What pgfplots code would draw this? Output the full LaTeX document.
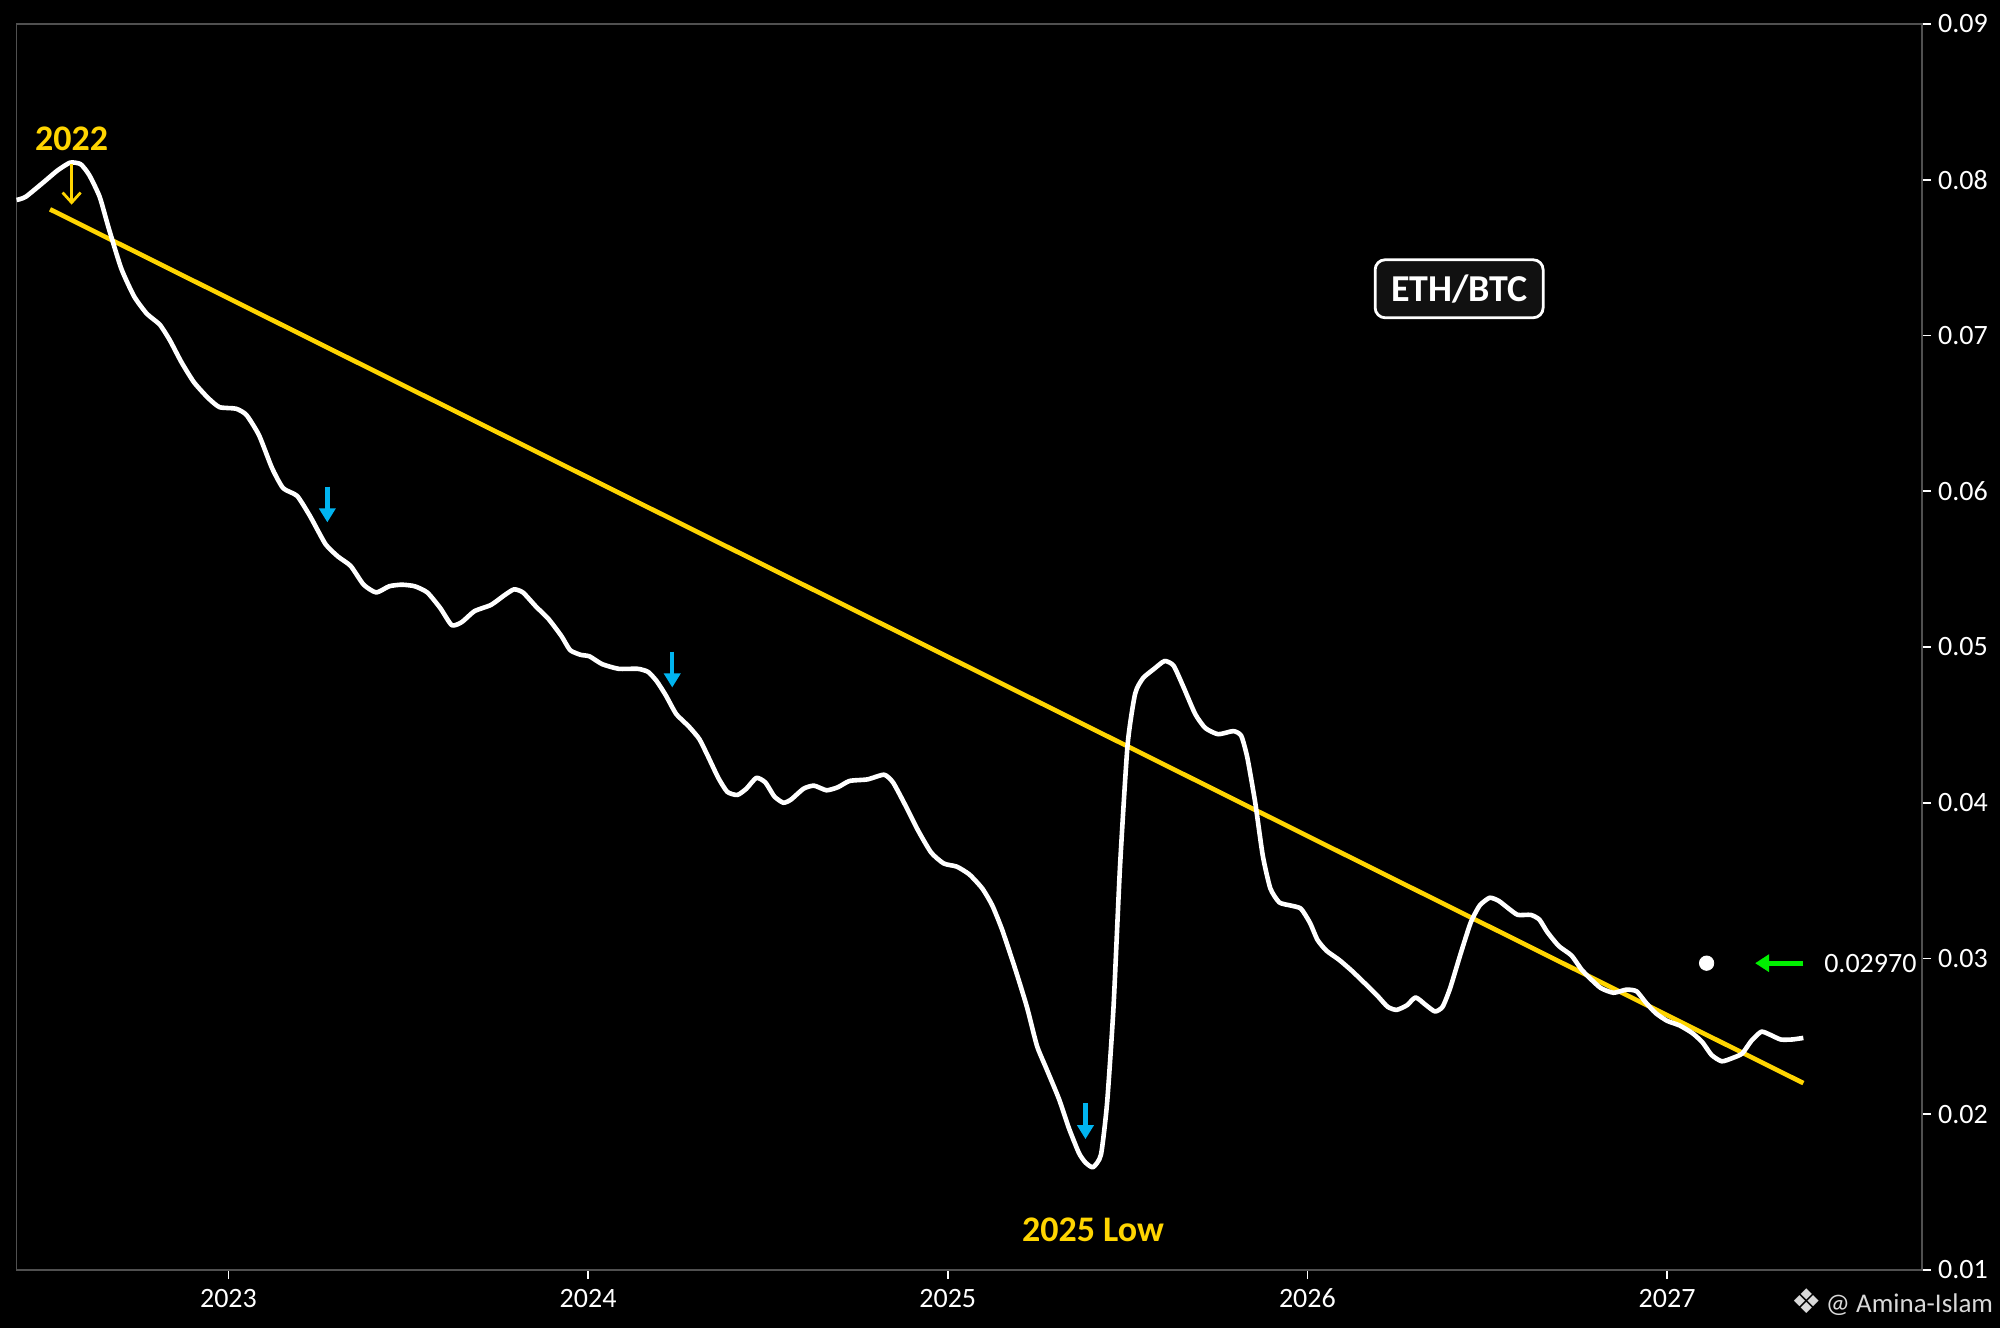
\documentclass[border=0pt]{standalone}
\usepackage{pgfplots}
\pgfplotsset{compat=1.18}
\usepackage{fontspec}
\setmainfont{Carlito}
\newfontfamily\symfont{DejaVu Sans}
\usetikzlibrary{arrows.meta}
\definecolor{gold}{HTML}{FFD500}
\definecolor{skyb}{HTML}{00B4F0}
\definecolor{spine}{HTML}{505050}
\definecolor{brightgreen}{HTML}{00F000}
\definecolor{boxfill}{HTML}{111111}

\begin{document}
\begin{tikzpicture}
\fill[black] (0,0) rectangle (1000pt,664pt);
\begin{axis}[
  at={(8.3pt,29pt)}, anchor=south west,
  scale only axis, width=952.7pt, height=623pt,
  xmin=2022.411, xmax=2027.709, ymin=0.01, ymax=0.09,
  clip=false,
  axis line style={draw=spine, line width=0.8pt},
  xtick pos=left, ytick pos=right, yticklabel pos=right,
  tick align=outside, major tick length=4.5pt,
  tick style={white, line width=0.8pt},
  ticklabel style={white, font=\fontsize{14}{16}\selectfont},
  /pgf/number format/assume math mode=true,
  xtick={2023,2024,2025,2026,2027},
  xticklabel style={/pgf/number format/1000 sep={}, yshift=-1.5pt},
  ytick={0.01,0.02,0.03,0.04,0.05,0.06,0.07,0.08,0.09},
  scaled y ticks=false,
  yticklabel style={/pgf/number format/fixed,/pgf/number format/fixed zerofill,/pgf/number format/precision=2},
]
% trend line
\addplot[gold, line width=2.3pt] coordinates {(2022.504,0.0781) (2027.379,0.0220)};
% ETH/BTC
\addplot[white, line width=2.3pt, smooth, tension=0.35, line join=round] coordinates {
(2022.411,0.0787) (2022.436,0.0789) (2022.489,0.0799) (2022.525,0.0806) (2022.560,0.0811)
(2022.589,0.0810) (2022.613,0.0803) (2022.642,0.0789) (2022.667,0.0769) (2022.702,0.0743)
(2022.738,0.0725) (2022.773,0.0714) (2022.809,0.0707) (2022.837,0.0697) (2022.869,0.0683)
(2022.904,0.0670) (2022.943,0.0660) (2022.975,0.0654) (2023.021,0.0653) (2023.050,0.0649)
(2023.085,0.0636) (2023.121,0.0615) (2023.152,0.0602) (2023.191,0.0597) (2023.227,0.0584)
(2023.270,0.0566) (2023.305,0.0558) (2023.340,0.0552) (2023.376,0.0540) (2023.411,0.0535)
(2023.447,0.0539) (2023.482,0.0540) (2023.518,0.0539) (2023.553,0.0535) (2023.589,0.0525)
(2023.621,0.0514) (2023.649,0.0516) (2023.684,0.0523) (2023.730,0.0527) (2023.766,0.0533)
(2023.794,0.0537) (2023.819,0.0535) (2023.855,0.0526) (2023.890,0.0518) (2023.926,0.0507)
(2023.950,0.0498) (2023.979,0.0495) (2024.004,0.0494) (2024.039,0.0489) (2024.085,0.0486)
(2024.138,0.0486) (2024.167,0.0484) (2024.191,0.0478) (2024.216,0.0469) (2024.245,0.0457)
(2024.280,0.0449) (2024.309,0.0441) (2024.333,0.0430) (2024.362,0.0416) (2024.387,0.0407)
(2024.415,0.0405) (2024.440,0.0409) (2024.468,0.0416) (2024.493,0.0413) (2024.518,0.0404)
(2024.543,0.0400) (2024.564,0.0402) (2024.599,0.0409) (2024.628,0.0411) (2024.663,0.0408)
(2024.695,0.0410) (2024.727,0.0414) (2024.777,0.0415) (2024.823,0.0418) (2024.848,0.0413)
(2024.883,0.0398) (2024.918,0.0382) (2024.954,0.0368) (2024.989,0.0361) (2025.025,0.0359)
(2025.060,0.0354) (2025.096,0.0345) (2025.124,0.0334) (2025.152,0.0318) (2025.188,0.0293)
(2025.220,0.0269) (2025.248,0.0244) (2025.273,0.0230) (2025.309,0.0210) (2025.337,0.0191)
(2025.365,0.0175) (2025.383,0.0169) (2025.404,0.0166) (2025.426,0.0174) (2025.443,0.0207)
(2025.461,0.0269) (2025.479,0.0359) (2025.500,0.0437) (2025.521,0.0470) (2025.543,0.0480)
(2025.574,0.0486) (2025.603,0.0491) (2025.628,0.0488) (2025.656,0.0474) (2025.688,0.0457)
(2025.716,0.0448) (2025.752,0.0444) (2025.794,0.0446) (2025.816,0.0443) (2025.833,0.0429)
(2025.855,0.0400) (2025.876,0.0366) (2025.897,0.0345) (2025.922,0.0336) (2025.954,0.0334)
(2025.982,0.0332) (2026.007,0.0323) (2026.028,0.0312) (2026.053,0.0305) (2026.089,0.0299)
(2026.124,0.0292) (2026.160,0.0284) (2026.195,0.0276) (2026.223,0.0269) (2026.248,0.0267)
(2026.277,0.0270) (2026.301,0.0275) (2026.330,0.0270) (2026.355,0.0266) (2026.376,0.0269)
(2026.397,0.0281) (2026.426,0.0303) (2026.454,0.0323) (2026.479,0.0334) (2026.507,0.0339)
(2026.532,0.0337) (2026.560,0.0332) (2026.585,0.0328) (2026.621,0.0328) (2026.645,0.0325)
(2026.667,0.0317) (2026.699,0.0308) (2026.734,0.0302) (2026.762,0.0293) (2026.787,0.0287)
(2026.816,0.0281) (2026.851,0.0278) (2026.887,0.0280) (2026.915,0.0279) (2026.940,0.0272)
(2026.968,0.0265) (2027.000,0.0260) (2027.035,0.0257) (2027.071,0.0252) (2027.099,0.0246)
(2027.124,0.0238) (2027.152,0.0234) (2027.181,0.0236) (2027.209,0.0239) (2027.234,0.0247)
(2027.262,0.0253) (2027.287,0.0251) (2027.316,0.0248) (2027.348,0.0248) (2027.379,0.0249)
};
% 2022 arrow
\addplot[gold, line width=1.4pt, -{Straight Barb[length=5pt,width=9pt,line width=1.4pt]}] coordinates {(2022.564,0.0810) (2022.564,0.0784)};
% blue arrows
\addplot[skyb, line width=2.2pt, -{Triangle[length=7pt,width=8pt]}] coordinates {(2023.275,0.0603) (2023.275,0.0580)};
\addplot[skyb, line width=2.2pt, -{Triangle[length=7pt,width=8pt]}] coordinates {(2024.234,0.0497) (2024.234,0.0474)};
\addplot[skyb, line width=2.2pt, -{Triangle[length=7pt,width=8pt]}] coordinates {(2025.383,0.0207) (2025.383,0.0184)};
% current value marker
\addplot[only marks, mark=*, mark size=3.6pt, white] coordinates {(2027.11,0.0297)};
\addplot[brightgreen, line width=2.6pt, -{Triangle[length=7pt,width=8.5pt]}] coordinates {(2027.379,0.0297) (2027.245,0.0297)};
\node[anchor=west, text=white, font=\fontsize{14}{16}\selectfont, inner sep=0pt] at (axis cs:2027.436,0.0297) {0.02970};
% labels
\node[text=gold, font=\bfseries\fontsize{18}{20}\selectfont] at (axis cs:2022.564,0.0826) {2022};
\node[text=gold, font=\bfseries\fontsize{18}{20}\selectfont] at (axis cs:2025.404,0.0126) {2025 Low};
\node[draw=white, line width=1.4pt, rounded corners=5pt, fill=boxfill, text=white,
      font=\bfseries\fontsize{19}{21}\selectfont, minimum width=84pt, minimum height=29pt, inner sep=2pt]
      at (axis cs:2026.422,0.0730) {ETH/BTC};
\end{axis}
\node[text=white!85!black, font=\fontsize{13.5}{15}\selectfont, inner sep=0pt] at (946pt,13pt) {\raisebox{-0.5pt}{\symfont\fontsize{17}{17}\selectfont ❖}\,@ Amina-Islam};
\pgfresetboundingbox
\path[use as bounding box] (0,0) rectangle (1000pt,664pt);
\end{tikzpicture}
\end{document}
